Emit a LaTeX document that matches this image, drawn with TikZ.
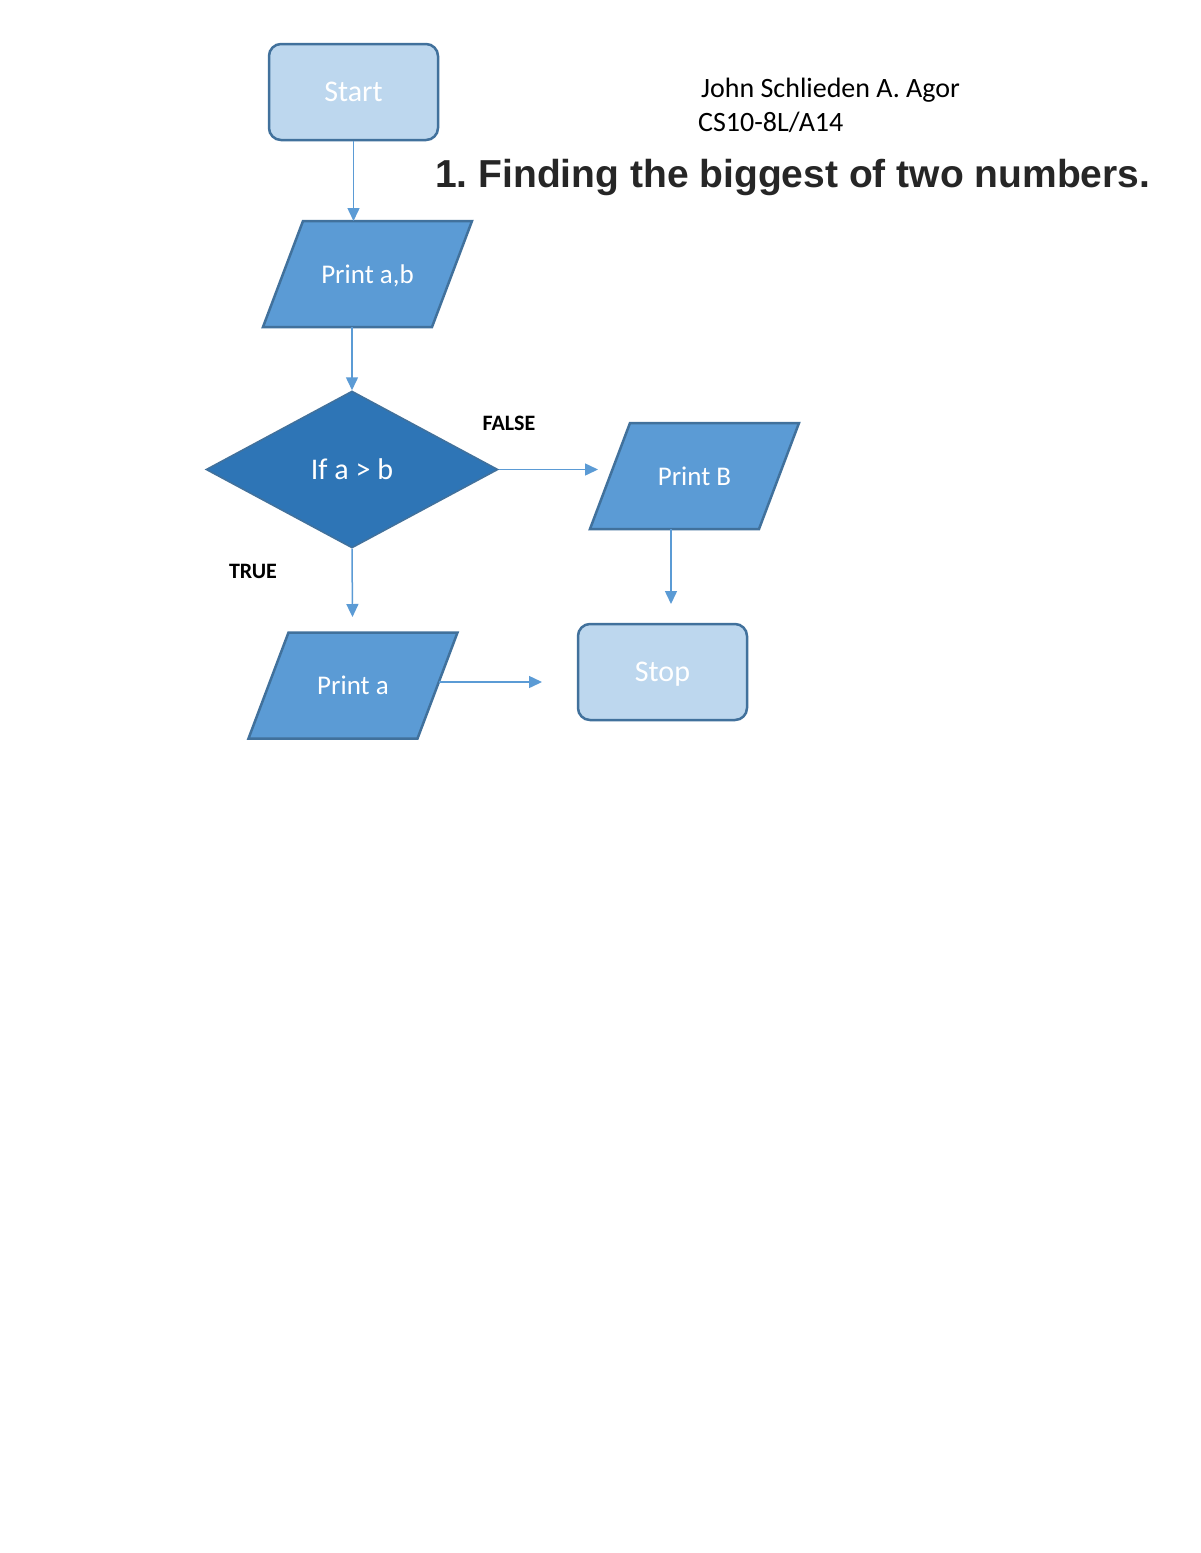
\documentclass[tikz,border=0pt]{standalone}
\usepackage{fontspec}
\setmainfont{Carlito}
\newfontfamily\titlefont{Liberation Sans}
\usetikzlibrary{shapes.geometric,arrows.meta,backgrounds}
\definecolor{termfill}{HTML}{BDD7EE}
\definecolor{edgec}{HTML}{41719C}
\definecolor{iofill}{HTML}{5B9BD5}
\definecolor{decfill}{HTML}{2E75B6}
\definecolor{arrowc}{HTML}{5B9BD5}
\frenchspacing
\begin{document}
\begin{tikzpicture}[x=1pt,y={(0pt,-1pt)},
 terminal/.style={draw=edgec, line width=2.5pt, fill=termfill, rounded corners=12pt, minimum width=169pt, minimum height=96pt, text=white, font=\fontsize{30}{36}\selectfont, inner sep=0pt, text depth=0pt},
 io/.style={rectangle, outer sep=0pt, minimum width=169pt, minimum height=106pt, text=white, font=\fontsize{27}{32}\selectfont, inner sep=0pt, text depth=0pt},
 iobox/.style={draw=edgec, line width=2.5pt, fill=iofill},
 decision/.style={diamond, draw=edgec, line width=1.5pt, fill=decfill, minimum width=292pt, minimum height=157pt, text=white, font=\fontsize{30}{36}\selectfont, inner sep=0pt},
 flow/.style={draw=arrowc, line width=1.5pt, -{Triangle[length=13pt,width=12pt]}},
 lbl/.style={font=\bfseries\fontsize{22}{26}\selectfont, text=black},
 info/.style={font=\fontsize{28}{32}\selectfont, text=black, anchor=base west, inner sep=0pt}
]
\useasboundingbox (0,0) rectangle (1200,1553);

\node[terminal] (start) at (353.5,92) {Start};
\node[io] (pab) at (367.5,274) {Print a,b};
\node[decision] (dec) at (352,469.5) {If a > b};
\node[io] (prB) at (694.5,476) {Print B};
\node[terminal] (stop) at (662.5,672) {Stop};
\node[io] (pa) at (353,685.5) {Print a};

\begin{scope}[on background layer]
\fill[white] (0,0) rectangle (1200,1553);
\foreach \n in {pab,prB,pa}{
  \draw[iobox] ([xshift=20pt]\n.north west) -- ([xshift=20pt]\n.north east)
     -- ([xshift=-20pt]\n.south east) -- ([xshift=-20pt]\n.south west) -- cycle;
}
\end{scope}

\node[lbl] (false) at (509,423) {FALSE};
\node[lbl] (true) at (253,571) {TRUE};

\node[info] (name) at (701,97) {John Schlieden A. Agor};
\node[info] (sec) at (698,131) {CS10-8L/A14};
\node[anchor=base west, inner sep=0pt, font=\titlefont\bfseries\fontsize{39}{44}\selectfont, text=black!85] (title) at (435,187) {1. Finding the biggest of two numbers.};

\coordinate (e1) at (598,469.5);
\coordinate (e2) at (671,604);
\coordinate (e3) at (352.5,617);
\coordinate (e4) at (542,682);

\draw[flow] (start.south) -- (start.south |- pab.north);
\draw[flow] (dec.north |- pab.south) -- (dec.north);
\draw[flow] (dec.east) -- (e1);
\draw[flow] (e2 |- prB.south) -- (e2);
\draw[flow] (dec.south) -- (e3);
\draw[flow] ([xshift=1pt]pa.east |- e4) -- (e4);
\end{tikzpicture}
\end{document}
